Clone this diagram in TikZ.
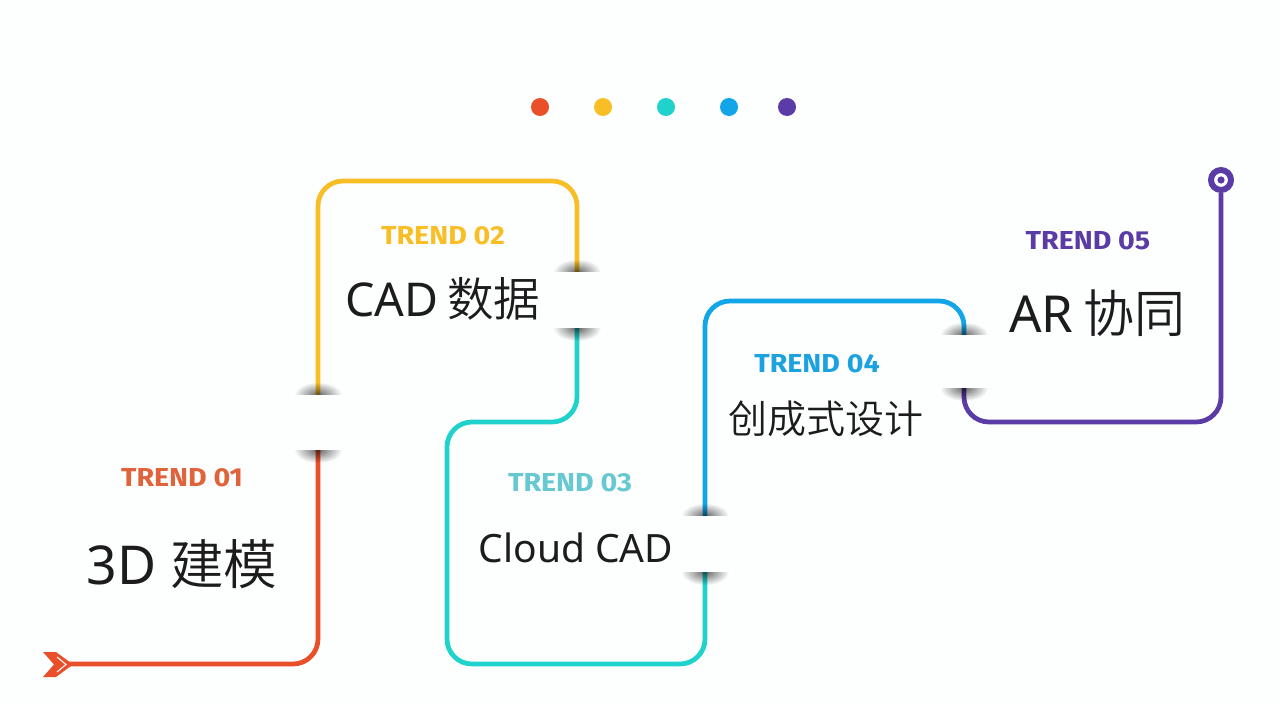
\documentclass[tikz,border=0pt]{standalone}
\usepackage{fontspec}
\setmainfont{Noto Sans}
\newfontfamily\cjk{Noto Sans CJK SC DemiLight}
\newfontfamily\trendfont{Fira Sans Bold}[FakeStretch=1.1]
\usetikzlibrary{arrows,fadings}
\definecolor{bgcol}{HTML}{FDFEFE}
\definecolor{redcol}{HTML}{E9502A}
\definecolor{yelcol}{HTML}{F8BE26}
\definecolor{teacol}{HTML}{1FD2CB}
\definecolor{blucol}{HTML}{12A6E8}
\definecolor{purcol}{HTML}{5B3BA5}
\definecolor{txtcol}{HTML}{1C1C1E}
\definecolor{trend1}{HTML}{E0633C}
\definecolor{trend3}{HTML}{66C8D0}
\definecolor{trend4}{HTML}{1CA2DF}
\tikzfading[name=spotfade,inner color=transparent!0,outer color=transparent!100]
\tikzset{
  trace/.style={line width=2.7pt,rounded corners=14.2pt},
  dot/.style={circle,inner sep=0pt,minimum size=0.36cm},
  trend/.style={font=\trendfont\fontsize{14.8}{16}\selectfont},
  title/.style={text=txtcol,inner sep=0pt},
  band/.style={fill=bgcol,draw=none},
  spot/.style={black,path fading=spotfade,opacity=.6}
}
\begin{document}
\begin{tikzpicture}[x=0.02cm,y=-0.02cm]
\fill[bgcol] (0,0) rectangle (1280,703);
\useasboundingbox (0,0) rectangle (1280,703);
% dots
\node[dot,fill=redcol] (d1) at (540,107){};
\node[dot,fill=yelcol] (d2) at (603,107){};
\node[dot,fill=teacol] (d3) at (666,107){};
\node[dot,fill=blucol] (d4) at (729,107){};
\node[dot,fill=purcol] (d5) at (787,107){};
% gaps
\coordinate (a1) at (318,450);
\coordinate (b1) at (318,395);
\coordinate (a2) at (577,272);
\coordinate (b2) at (577,328);
\coordinate (a3) at (705,572);
\coordinate (b3) at (705,516);
\coordinate (a4) at (964,335);
\coordinate (b4) at (964,388);
\coordinate (start) at (66,664);
% traces
\draw[trace,redcol] (start) -- (318,664) -- (a1);
\draw[trace,yelcol] (b1) -- (318,181) -- (577,181) -- (a2);
\draw[trace,teacol] (b2) -- (577,422) -- (447,422) -- (447,664) -- (705,664) -- (a3);
\draw[trace,blucol] (b3) -- (705,301) -- (964,301) -- (a4);
\node[circle,draw=purcol,line width=3.4pt,minimum size=0.4cm,inner sep=0pt] (goal) at (1221,180){};
\fill[purcol] (goal.center) circle (3.6);
\draw[trace,purcol] (b4) -- (964,422) -- (1221,422) -- (goal.south);
% shadows
\foreach \p in {a1,b1,a2,b2,a3,b3,a4,b4}
  \fill[spot] (\p) ellipse (24 and 13);
% white bands
\fill[band] (285,395) rectangle (352,450);
\fill[band] (540,272) rectangle (612,328);
\fill[band] (672,516) rectangle (738,572);
\fill[band] (930,335) rectangle (1000,388);
% chevron
\fill[redcol] (43,652) -- (56,652) -- (73,664.5) -- (56,677) -- (43,677) -- (54,664.5) -- cycle;
\draw[white,line width=0.6pt] (57,657) -- (66,664.5) -- (57,672);
% labels
\node[trend,text=trend1] (t1) at (182,478){TREND 01};
\node[trend,text=yelcol] (t2) at (443,236){TREND 02};
\node[trend,text=trend3] (t3) at (570,483){TREND 03};
\node[trend,text=trend4] (t4) at (817,364){TREND 04};
\node[trend,text=purcol] (t5) at (1088,241){TREND 05};
\node[title,font=\fontsize{30.5}{32}\selectfont] (n1) at (182,564){3D {\cjk 建模}};
\node[title,font=\fontsize{26.5}{28}\selectfont] (n2) at (443,299){CAD\hspace{-2pt} {\cjk 数据}};
\node[title,font=\fontsize{22.2}{24}\selectfont] (n3) at (576,548){Cloud CAD};
\node[title,font=\fontsize{22.2}{24}\selectfont] (n4) at (826,419){\cjk 创成式设计};
\node[title,font=\fontsize{29}{31}\selectfont] (n5) at (1097,313){AR\hspace{-2pt} {\cjk 协同}};
\end{tikzpicture}
\end{document}
